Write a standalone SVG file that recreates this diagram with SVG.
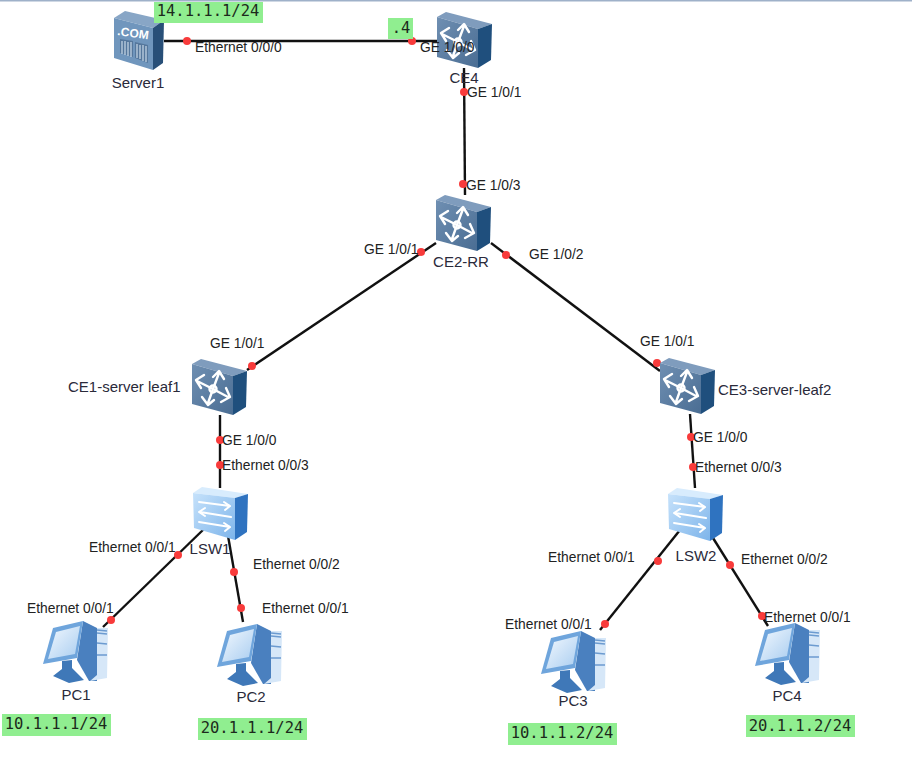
<svg xmlns="http://www.w3.org/2000/svg" width="912" height="757" viewBox="0 0 912 757">
<style>
text{font-family:"Liberation Sans",Arial,sans-serif;font-size:13.8px;fill:#222}
.nm{font-size:15px;fill:#2a2a3a;text-anchor:middle}
.ip{font-family:"DejaVu Sans Mono",monospace;font-size:15.5px;fill:#1c2a1c;text-anchor:middle}
.bg{fill:#90ee90}
.ln{stroke:#111;stroke-width:2.4;fill:none}
.dot{fill:#f83b3b}
.w{stroke:#fff;stroke-width:2;fill:none;stroke-linecap:round;stroke-linejoin:round}
</style>
<defs>
<linearGradient id="rf" x1="0" y1="0" x2="1" y2="1"><stop offset="0" stop-color="#6f8fb2"/><stop offset="1" stop-color="#4a6d93"/></linearGradient>
<linearGradient id="sf" x1="0" y1="0" x2="1" y2="1"><stop offset="0" stop-color="#c6e2fb"/><stop offset="1" stop-color="#7db4ea"/></linearGradient>
<linearGradient id="pf" x1="0" y1="0" x2="1" y2="1"><stop offset="0" stop-color="#f2f8fe"/><stop offset="1" stop-color="#a9cdf0"/></linearGradient>
<symbol id="router" overflow="visible">
<path d="M0 5L9 0L55 12L41 17Z" fill="#7f9cbd"/>
<path d="M0 5L41 17V56L0 45Z" fill="url(#rf)"/>
<path d="M41 17L55 12L54 48L41 56Z" fill="#1f4f7d"/>
<g class="w" style="stroke-width:2.4"><path d="M21 30L27 14M21 18L27 12L32 20"/><path d="M21 30L5 22M12 16L4 21L9 29"/><path d="M21 30L16 44M10 38L16 46L22 41"/><path d="M21 30L36 38M29 43L38 38L34 29"/><circle cx="21" cy="30" r="3.5"/></g>
</symbol>
<symbol id="switch" overflow="visible">
<path d="M0 6L9 0L55 7L42 11Z" fill="#d8ecfd"/>
<path d="M0 6L42 11V53L1 41Z" fill="url(#sf)"/>
<path d="M42 11L55 7L54 45L42 53Z" fill="#2f73c0"/>
<g class="w"><path d="M6 15L37 19M31 15L37 19L32 23"/><path d="M38 30L7 25M12 21L6 25L12 29"/><path d="M6 35L37 40M31 36L37 40L32 44"/></g>
</symbol>
<symbol id="server" overflow="visible">
<path d="M0 7L11 0L50 9L39 17Z" fill="#88a6c6"/>
<path d="M0 7L39 17V59L0 47Z" fill="#7096bd"/>
<path d="M39 17L50 9L49 52L39 59Z" fill="#284f78"/>
<path d="M6 28L19 30V46L6 42Z M21 31L34 34V52L21 47Z" fill="#55779c"/>
<path d="M8 30V43M11 30V44M14 31V45M17 31V46M23 33V47M26 34V48M29 34V50M32 35V51" stroke="#c9d9e8" stroke-width="1.2" fill="none"/>
<text x="3" y="24" transform="rotate(8 3 24)" style="font-size:12px;font-weight:bold;fill:#fff">.COM</text>
</symbol>
<symbol id="pc" overflow="visible">
<path d="M40 1L54 8V61L46 61L34 40Z" fill="#4a80bf"/>
<path d="M10 8L40 1L34 38L0 44Z" fill="#6fa5dc"/>
<path d="M13 12L37 6L32 34L5 39Z" fill="url(#pf)"/>
<path d="M19 41L29 40L29 48L41 60L26 63L10 56L19 49Z" fill="#3f78b8"/>
<path d="M54 8H65L64 58L47 61L54 55Z" fill="#d6e7f8"/>
<path d="M54 10L64 11M54 13L64 14M54 23L64 24M54 35L64 35" stroke="#6c9bd0" stroke-width="1.3" fill="none"/>
</symbol>
</defs>
<rect width="912" height="757" fill="#fff"/>
<rect width="912" height="1.5" fill="#9fb1c9"/>
<g id="connectors">
<path class="ln" d="M164 41L300 41L437 41"/>
<path class="ln" d="M464 68L465 195"/>
<path class="ln" d="M436 243L247 370"/>
<path class="ln" d="M491 243L660 371"/>
<path class="ln" d="M220 415V488"/>
<path class="ln" d="M690 414L695 488"/>
<path class="ln" d="M205 528L103 627"/>
<path class="ln" d="M227 530L243 622"/>
<path class="ln" d="M680 530L600 630"/>
<path class="ln" d="M708 530L768 626"/>
<g class="dot">
<circle cx="187" cy="41" r="4"/><circle cx="412" cy="41" r="4"/>
<circle cx="464" cy="92" r="4"/><circle cx="463" cy="184" r="4"/>
<circle cx="421" cy="252" r="4"/><circle cx="252" cy="366" r="4"/>
<circle cx="506" cy="255" r="4"/><circle cx="657" cy="363" r="4"/>
<circle cx="220" cy="440" r="4"/><circle cx="220" cy="465" r="4"/>
<circle cx="691" cy="437" r="4"/><circle cx="693" cy="467" r="4"/>
<circle cx="178" cy="555" r="4"/><circle cx="111" cy="620" r="4"/>
<circle cx="234" cy="572" r="4"/><circle cx="241" cy="608" r="4"/>
<circle cx="658" cy="561" r="4"/><circle cx="605" cy="624" r="4"/>
<circle cx="730" cy="565" r="4"/><circle cx="762" cy="616" r="4"/>
</g>
</g>
<g id="Server1"><use href="#server" x="114" y="11"/><text class="nm" x="138" y="88">Server1</text></g>
<g id="CE4"><use href="#router" x="437" y="12"/><text class="nm" x="464" y="83">CE4</text></g>
<g id="CE2-RR"><use href="#router" x="436" y="195"/><text class="nm" x="461" y="267">CE2-RR</text></g>
<g id="CE1"><use href="#router" x="192" y="359"/><text class="nm" x="68" y="392" style="text-anchor:start">CE1-server leaf1</text></g>
<g id="CE3"><use href="#router" x="660" y="358"/><text class="nm" x="718" y="395" style="text-anchor:start">CE3-server-leaf2</text></g>
<g id="LSW1"><use href="#switch" x="193" y="487"/><text class="nm" x="210" y="554">LSW1</text></g>
<g id="LSW2"><use href="#switch" x="668" y="488"/><text class="nm" x="696" y="561">LSW2</text></g>
<g id="PC1"><use href="#pc" x="43" y="620"/><text class="nm" x="76" y="700">PC1</text></g>
<g id="PC2"><use href="#pc" x="217" y="623"/><text class="nm" x="251" y="702">PC2</text></g>
<g id="PC3"><use href="#pc" x="541" y="630"/><text class="nm" x="573" y="706">PC3</text></g>
<g id="PC4"><use href="#pc" x="755" y="622"/><text class="nm" x="787" y="701">PC4</text></g>
<g id="port-labels">
<text x="195" y="52">Ethernet 0/0/0</text>
<text x="420" y="52">GE 1/0/0</text>
<text x="467" y="97">GE 1/0/1</text>
<text x="466" y="190">GE 1/0/3</text>
<text x="364" y="254">GE 1/0/1</text>
<text x="529" y="259">GE 1/0/2</text>
<text x="210" y="348">GE 1/0/1</text>
<text x="640" y="346">GE 1/0/1</text>
<text x="222" y="445">GE 1/0/0</text>
<text x="222" y="470">Ethernet 0/0/3</text>
<text x="693" y="442">GE 1/0/0</text>
<text x="695" y="472">Ethernet 0/0/3</text>
<text x="89" y="552">Ethernet 0/0/1</text>
<text x="253" y="569">Ethernet 0/0/2</text>
<text x="27" y="613">Ethernet 0/0/1</text>
<text x="262" y="613">Ethernet 0/0/1</text>
<text x="548" y="562">Ethernet 0/0/1</text>
<text x="741" y="564">Ethernet 0/0/2</text>
<text x="505" y="629">Ethernet 0/0/1</text>
<text x="764" y="622">Ethernet 0/0/1</text>
</g>
<g id="ip-labels">
<rect class="bg" x="154" y="2" width="109" height="21"/><text class="ip" x="208" y="16">14.1.1.1/24</text>
<rect class="bg" x="388" y="18" width="25" height="21"/><text class="ip" x="401" y="33">.4</text>
<rect class="bg" x="2" y="714" width="109" height="22"/><text class="ip" x="56" y="729">10.1.1.1/24</text>
<rect class="bg" x="198" y="718" width="109" height="22"/><text class="ip" x="252" y="733">20.1.1.1/24</text>
<rect class="bg" x="508" y="723" width="109" height="22"/><text class="ip" x="562" y="738">10.1.1.2/24</text>
<rect class="bg" x="746" y="715" width="109" height="22"/><text class="ip" x="800" y="731">20.1.1.2/24</text>
</g>
</svg>
